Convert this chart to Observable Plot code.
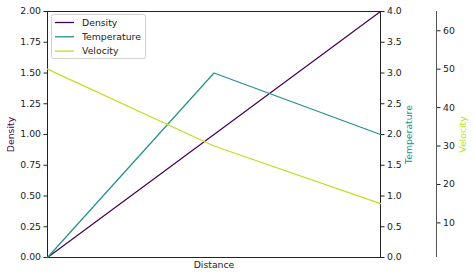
<!DOCTYPE html>
<html><head><meta charset="utf-8">
<script src="https://cdn.jsdelivr.net/npm/d3@7"></script>
<script src="https://cdn.jsdelivr.net/npm/@observablehq/plot@0.6"></script>
<style>
body{margin:0;background:#fff;font-family:"DejaVu Sans",sans-serif;}
#wrap{position:relative;width:474px;height:277px;}
#wrap svg{position:absolute;left:0;top:0;background:transparent;}
</style></head>
<body><div id="wrap"></div>
<script>
const distance = [0, 1, 2];
const density = [0, 1, 2];
const temperature = [0, 3, 2];
const velocity = [50, 30, 15];
const densityTicks = [0, 0.25, 0.5, 0.75, 1, 1.25, 1.5, 1.75, 2];
const tempTicks = [0, 0.5, 1, 1.5, 2, 2.5, 3, 3.5, 4];
const velTicks = [10, 20, 30, 40, 50, 60];
const seriesNames = ["Density", "Temperature", "Velocity"];
const colors = {Density: "#440154", Temperature: "#21918c", Velocity: "#bddf26"};

const W = 474, H = 277;
const margins = {marginLeft: 47, marginRight: 94, marginTop: 11, marginBottom: 20};
const base = {width: W, height: H, ...margins,
  style: {fontFamily: "DejaVu Sans, sans-serif", fontSize: "9.3px", color: "#222", background: "transparent", overflow: "visible"},
  x: {domain: [0, 2], axis: null}};
const pts = (ys) => distance.map((d, i) => ({x: d, y: ys[i]}));

const p1 = Plot.plot({...base,
  y: {domain: [0, 2], axis: null},
  marks: [
    Plot.frame({stroke: "#222", strokeWidth: 1}),
    Plot.axisY(densityTicks, {anchor: "left", tickFormat: d3.format(".2f"), tickSize: 3.5, tickPadding: 3, label: null, stroke: "#222"}),
    Plot.line(pts(density), {x: "x", y: "y", stroke: colors.Density, strokeWidth: 1.2}),
    Plot.text(["Density"], {frameAnchor: "left", textAnchor: "middle", dx: -36, rotate: -90, fill: colors.Density, fontSize: 9.3}),
    Plot.text(["Distance"], {frameAnchor: "bottom", textAnchor: "middle", dy: 10, fill: "#222", fontSize: 9.3})
  ]});
const p2 = Plot.plot({...base,
  y: {domain: [0, 4], axis: null},
  marks: [
    Plot.axisY(tempTicks, {anchor: "right", tickFormat: d3.format(".1f"), tickSize: 3.5, tickPadding: 3, label: null, stroke: "#222"}),
    Plot.line(pts(temperature), {x: "x", y: "y", stroke: colors.Temperature, strokeWidth: 1.2}),
    Plot.text(["Temperature"], {frameAnchor: "right", textAnchor: "middle", dx: 29, rotate: -90, fill: colors.Temperature, fontSize: 9.3})
  ]});
const p3 = Plot.plot({...base,
  y: {domain: [1, 65], axis: null},
  marks: [
    Plot.ruleX([2], {dx: 56, stroke: "#555", strokeWidth: 1}),
    Plot.axisY(velTicks, {anchor: "right", dx: 56, tickFormat: d3.format("d"), tickSize: 3.5, tickPadding: 3, label: null, stroke: "#222"}),
    Plot.line(pts(velocity), {x: "x", y: "y", stroke: colors.Velocity, strokeWidth: 1.2}),
    Plot.text(["Velocity"], {frameAnchor: "right", textAnchor: "middle", dx: 83, rotate: -90, fill: colors.Velocity, fontSize: 9.3})
  ]});
const wrap = document.getElementById("wrap");
wrap.append(p1, p2, p3);

// legend as plain SVG overlay
const ns = "http://www.w3.org/2000/svg";
const lg = document.createElementNS(ns, "svg");
lg.setAttribute("width", W); lg.setAttribute("height", H);
const box = document.createElementNS(ns, "rect");
Object.entries({x: 51.5, y: 14.5, width: 94, height: 44, rx: 2, fill: "white", "fill-opacity": 0.85, stroke: "#d0d0d0"}).forEach(([k, v]) => box.setAttribute(k, v));
lg.append(box);
seriesNames.forEach((name, i) => {
  const yy = 22.5 + i * 14.3;
  const ln = document.createElementNS(ns, "line");
  Object.entries({x1: 55, x2: 74, y1: yy, y2: yy, stroke: colors[name], "stroke-width": 1.3}).forEach(([k, v]) => ln.setAttribute(k, v));
  const tx = document.createElementNS(ns, "text");
  Object.entries({x: 82, y: yy, dy: "0.35em", fill: "#222", "font-size": 9.3, "font-family": "DejaVu Sans, sans-serif"}).forEach(([k, v]) => tx.setAttribute(k, v));
  tx.textContent = name;
  lg.append(ln, tx);
});
wrap.append(lg);
</script></body></html>
